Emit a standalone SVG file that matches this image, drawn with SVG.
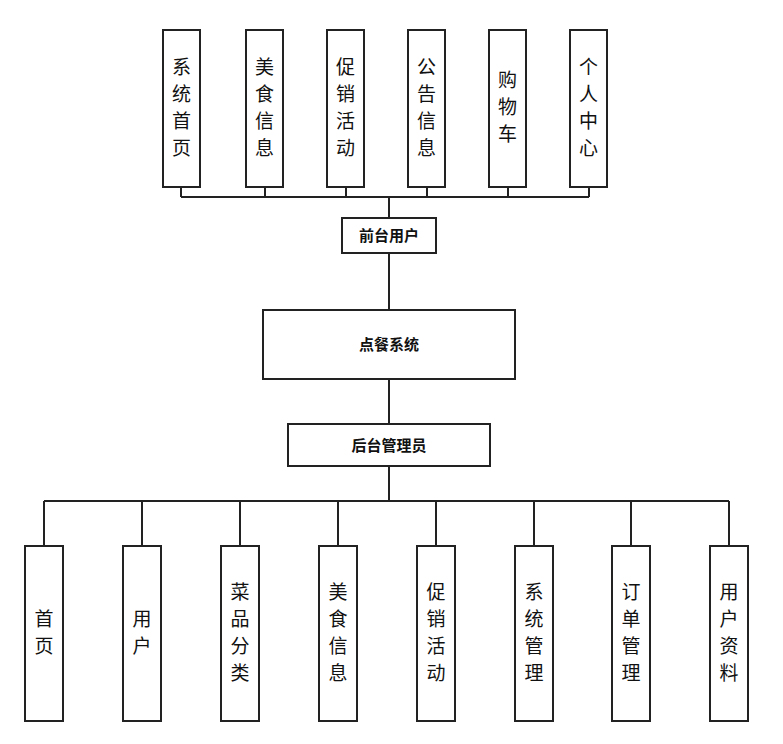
<svg xmlns="http://www.w3.org/2000/svg" width="783" height="744" viewBox="0 0 783 744">
<style>
rect{fill:#fff;stroke:#222;stroke-width:2}
line,polyline{stroke:#222;stroke-width:2;fill:none}
text{font-family:"Noto Sans CJK SC",sans-serif;font-size:19px;fill:#111;text-anchor:middle}
.b{font-size:15px;font-weight:bold}
</style>
<g id="connectors">
<line x1="181" y1="197" x2="589" y2="197"/>
<line x1="181" y1="187" x2="181" y2="197"/><line x1="265" y1="187" x2="265" y2="197"/><line x1="346" y1="187" x2="346" y2="197"/><line x1="427" y1="187" x2="427" y2="197"/><line x1="508" y1="187" x2="508" y2="197"/><line x1="589" y1="187" x2="589" y2="197"/>
<line x1="389" y1="197" x2="389" y2="218"/>
<line x1="389" y1="253" x2="389" y2="310"/>
<line x1="389" y1="379" x2="389" y2="424"/>
<line x1="389" y1="466" x2="389" y2="501"/>
<line x1="44" y1="501" x2="729" y2="501"/>
<line x1="44" y1="501" x2="44" y2="546"/><line x1="142" y1="501" x2="142" y2="546"/><line x1="240" y1="501" x2="240" y2="546"/><line x1="338" y1="501" x2="338" y2="546"/><line x1="436" y1="501" x2="436" y2="546"/><line x1="534" y1="501" x2="534" y2="546"/><line x1="631" y1="501" x2="631" y2="546"/><line x1="729" y1="501" x2="729" y2="546"/>
</g>
<g id="t1"><rect x="163" y="30" width="37" height="157"/><text x="181.5"><tspan x="181.5" y="74">系</tspan><tspan x="181.5" y="101">统</tspan><tspan x="181.5" y="128">首</tspan><tspan x="181.5" y="155">页</tspan></text></g>
<g id="t2"><rect x="246" y="30" width="37" height="157"/><text><tspan x="264.5" y="74">美</tspan><tspan x="264.5" y="101">食</tspan><tspan x="264.5" y="128">信</tspan><tspan x="264.5" y="155">息</tspan></text></g>
<g id="t3"><rect x="327" y="30" width="37" height="157"/><text><tspan x="345.5" y="74">促</tspan><tspan x="345.5" y="101">销</tspan><tspan x="345.5" y="128">活</tspan><tspan x="345.5" y="155">动</tspan></text></g>
<g id="t4"><rect x="408" y="30" width="37" height="157"/><text><tspan x="426.5" y="74">公</tspan><tspan x="426.5" y="101">告</tspan><tspan x="426.5" y="128">信</tspan><tspan x="426.5" y="155">息</tspan></text></g>
<g id="t5"><rect x="489" y="30" width="37" height="157"/><text><tspan x="507.5" y="87">购</tspan><tspan x="507.5" y="114">物</tspan><tspan x="507.5" y="141">车</tspan></text></g>
<g id="t6"><rect x="570" y="30" width="37" height="157"/><text><tspan x="588.5" y="74">个</tspan><tspan x="588.5" y="101">人</tspan><tspan x="588.5" y="128">中</tspan><tspan x="588.5" y="155">心</tspan></text></g>
<g id="front"><rect x="342" y="218" width="94" height="35"/><text class="b" x="389" y="241">前台用户</text></g>
<g id="sys"><rect x="263" y="310" width="252" height="69"/><text class="b" x="389" y="350">点餐系统</text></g>
<g id="admin"><rect x="288" y="424" width="202" height="42"/><text class="b" x="389" y="451">后台管理员</text></g>
<g id="b1"><rect x="25" y="546" width="38" height="175"/><text><tspan x="44" y="626">首</tspan><tspan x="44" y="653">页</tspan></text></g>
<g id="b2"><rect x="123" y="546" width="38" height="175"/><text><tspan x="142" y="626">用</tspan><tspan x="142" y="653">户</tspan></text></g>
<g id="b3"><rect x="221" y="546" width="38" height="175"/><text><tspan x="240" y="599">菜</tspan><tspan x="240" y="626">品</tspan><tspan x="240" y="653">分</tspan><tspan x="240" y="680">类</tspan></text></g>
<g id="b4"><rect x="319" y="546" width="38" height="175"/><text><tspan x="338" y="599">美</tspan><tspan x="338" y="626">食</tspan><tspan x="338" y="653">信</tspan><tspan x="338" y="680">息</tspan></text></g>
<g id="b5"><rect x="417" y="546" width="38" height="175"/><text><tspan x="436" y="599">促</tspan><tspan x="436" y="626">销</tspan><tspan x="436" y="653">活</tspan><tspan x="436" y="680">动</tspan></text></g>
<g id="b6"><rect x="515" y="546" width="38" height="175"/><text><tspan x="534" y="599">系</tspan><tspan x="534" y="626">统</tspan><tspan x="534" y="653">管</tspan><tspan x="534" y="680">理</tspan></text></g>
<g id="b7"><rect x="612" y="546" width="38" height="175"/><text><tspan x="631" y="599">订</tspan><tspan x="631" y="626">单</tspan><tspan x="631" y="653">管</tspan><tspan x="631" y="680">理</tspan></text></g>
<g id="b8"><rect x="710" y="546" width="38" height="175"/><text><tspan x="729" y="599">用</tspan><tspan x="729" y="626">户</tspan><tspan x="729" y="653">资</tspan><tspan x="729" y="680">料</tspan></text></g>
</svg>
